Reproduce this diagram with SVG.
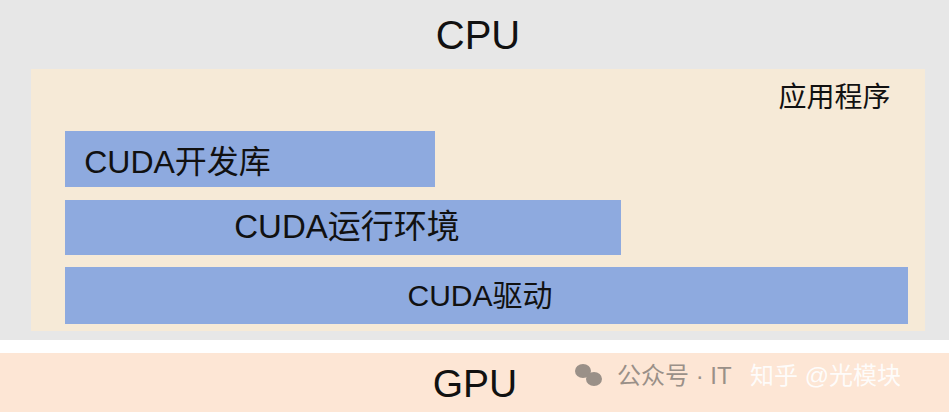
<svg xmlns="http://www.w3.org/2000/svg" width="949" height="412" viewBox="0 0 949 412">
<style>
.t{font-family:"Liberation Sans","Noto Sans CJK SC",sans-serif;fill:#111}
.blue{fill:#8eaadf}
</style>
<rect x="0" y="0" width="949" height="340" fill="#e7e7e7"/>
<rect x="0" y="340" width="949" height="13" fill="#ffffff"/>
<rect x="0" y="353" width="949" height="59" fill="#fde6d5"/>
<g id="cpu"><text class="t" x="478" y="49" font-size="40" text-anchor="middle">CPU</text></g>
<g id="app">
<rect x="31" y="69" width="894" height="262" fill="#f6ead7"/>
<text class="t" x="834.5" y="107" font-size="28" text-anchor="middle">应用程序</text>
</g>
<g id="devlib">
<rect class="blue" x="65" y="131" width="370" height="56"/>
<text class="t" x="177.5" y="173" font-size="32" text-anchor="middle">CUDA开发库</text>
</g>
<g id="runtime">
<rect class="blue" x="65" y="200" width="556" height="55"/>
<text class="t" x="347" y="238" font-size="33" text-anchor="middle">CUDA运行环境</text>
</g>
<g id="driver">
<rect class="blue" x="65" y="267" width="843" height="57"/>
<text class="t" x="480" y="306" font-size="30" text-anchor="middle">CUDA驱动</text>
</g>
<g id="gpu"><text class="t" x="475" y="397" font-size="39" text-anchor="middle">GPU</text></g>
<g id="watermark" font-family="Liberation Sans,Noto Sans CJK SC,sans-serif" font-size="24">
<ellipse cx="583" cy="371" rx="8" ry="7" fill="#9a9088"/>
<ellipse cx="594" cy="379" rx="8" ry="7" fill="#9a9088"/>
<text x="617" y="384" fill="#9a9088">公众号 · IT</text>
<text x="750" y="384" fill="#ffffff" opacity="0.9">知乎 @光模块</text>
</g>
</svg>
